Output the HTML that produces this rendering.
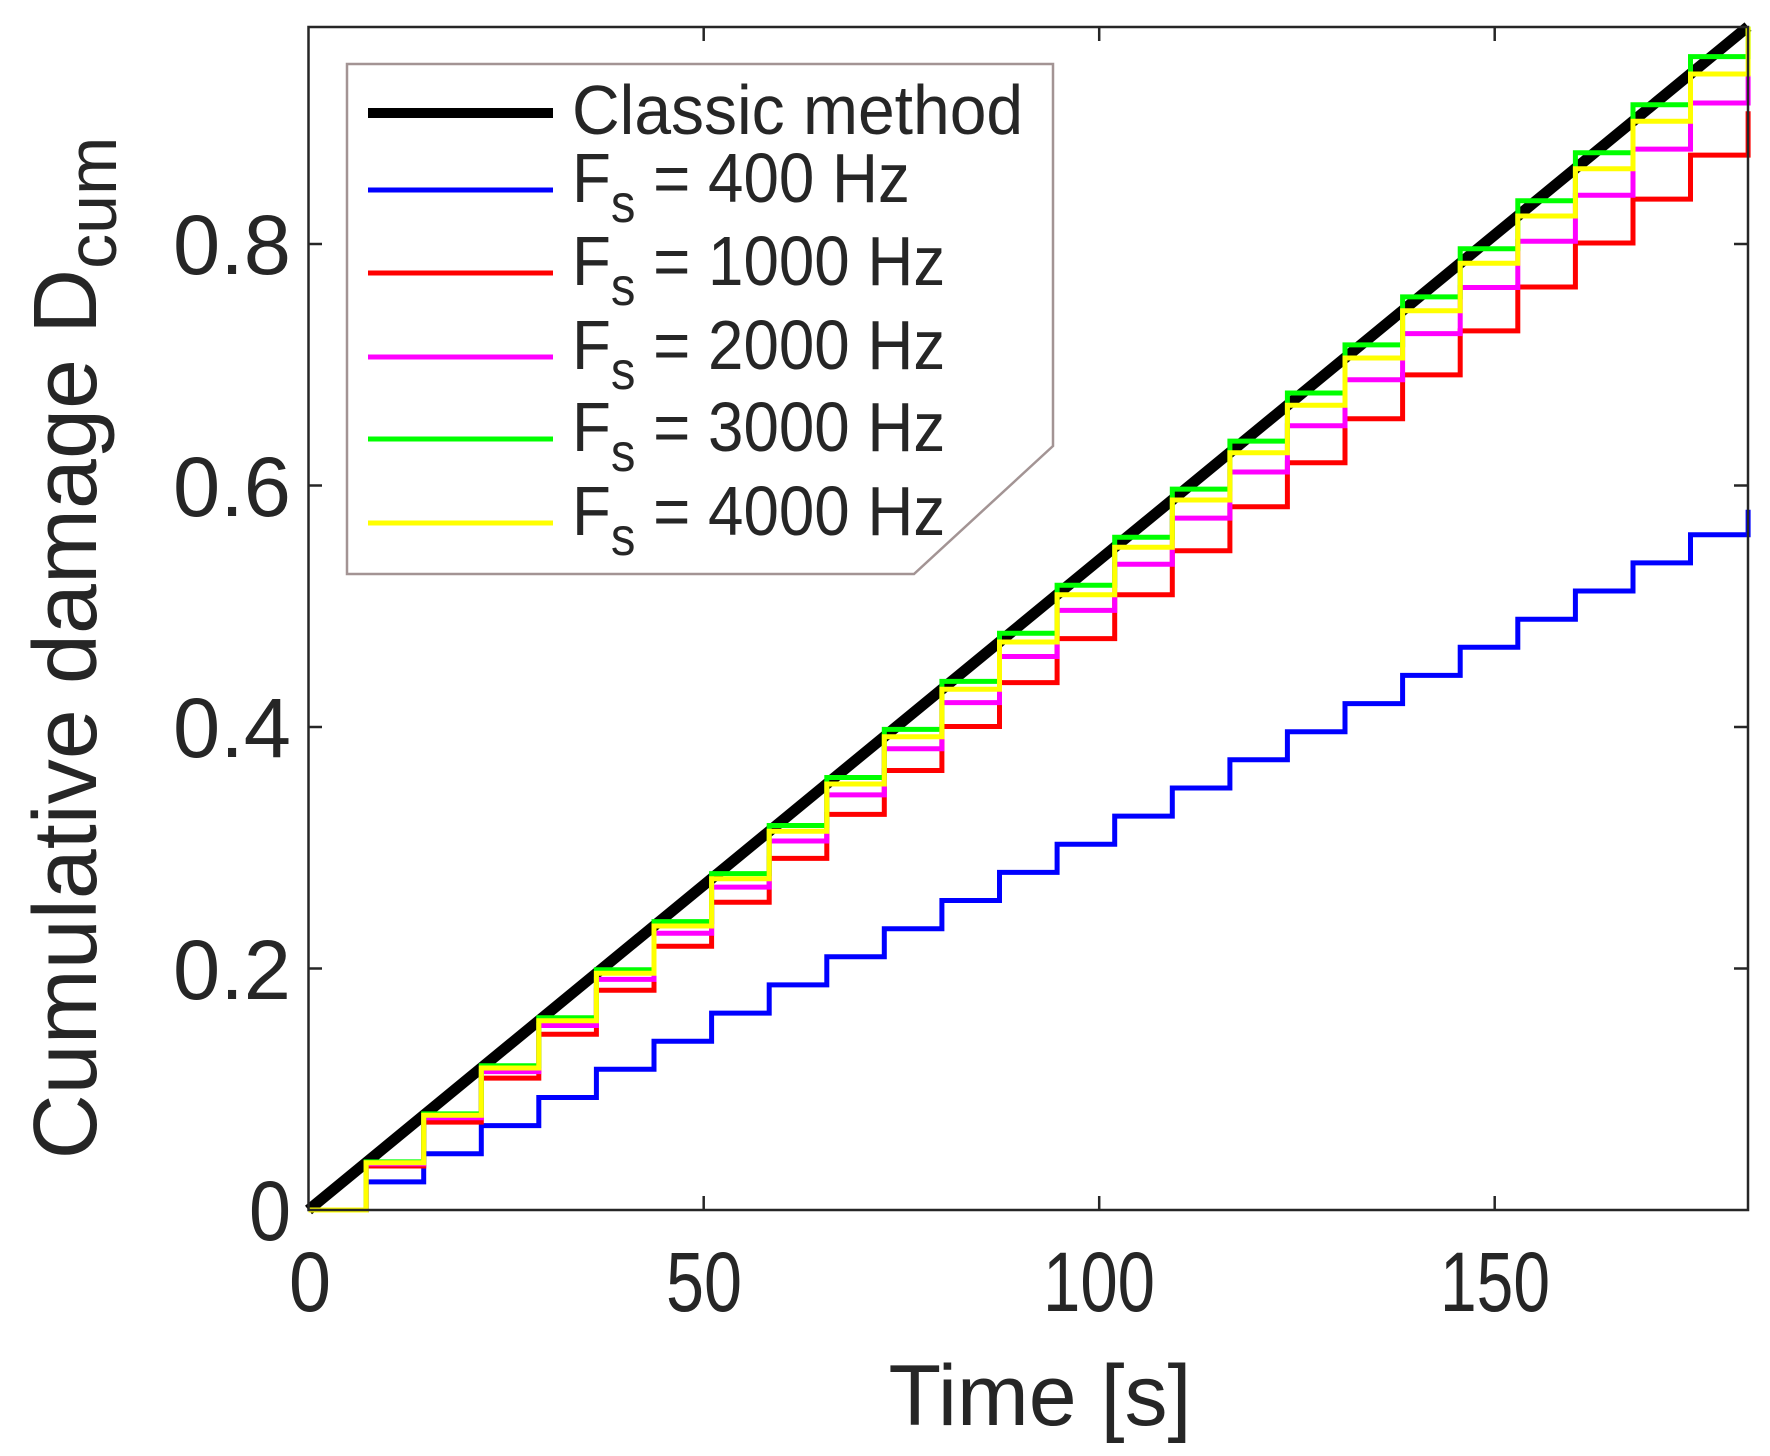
<!DOCTYPE html>
<html><head><meta charset="utf-8"><style>
html,body{margin:0;padding:0;background:#fff;}
svg{display:block;}
text{font-family:"Liberation Sans",sans-serif;fill:#262626;}
</style></head><body>
<svg id="s" width="1770" height="1456" viewBox="0 0 1770 1456" xmlns="http://www.w3.org/2000/svg">
<rect width="1770" height="1456" fill="#fff"/>
<g id="series"></g>
<rect x="308.5" y="27" width="1439.5" height="1183" fill="none" stroke="#262626" stroke-width="2.5"/>
<g stroke="#262626" stroke-width="2.5">
<line x1="703.7" y1="1210" x2="703.7" y2="1196"/><line x1="1099.2" y1="1210" x2="1099.2" y2="1196"/><line x1="1494.7" y1="1210" x2="1494.7" y2="1196"/>
<line x1="703.7" y1="27" x2="703.7" y2="41"/><line x1="1099.2" y1="27" x2="1099.2" y2="41"/><line x1="1494.7" y1="27" x2="1494.7" y2="41"/>
<line x1="308.5" y1="968.5" x2="322" y2="968.5"/><line x1="308.5" y1="727" x2="322" y2="727"/><line x1="308.5" y1="485.5" x2="322" y2="485.5"/><line x1="308.5" y1="244" x2="322" y2="244"/>
<line x1="1748" y1="968.5" x2="1734" y2="968.5"/><line x1="1748" y1="727" x2="1734" y2="727"/><line x1="1748" y1="485.5" x2="1734" y2="485.5"/><line x1="1748" y1="244" x2="1734" y2="244"/>
</g>
<g font-size="84" text-anchor="end">
<text x="291" y="1240" textLength="42" lengthAdjust="spacingAndGlyphs">0</text>
<text x="291" y="999" textLength="118" lengthAdjust="spacingAndGlyphs">0.2</text>
<text x="291" y="757" textLength="118" lengthAdjust="spacingAndGlyphs">0.4</text>
<text x="291" y="516" textLength="118" lengthAdjust="spacingAndGlyphs">0.6</text>
<text x="291" y="274" textLength="118" lengthAdjust="spacingAndGlyphs">0.8</text>
</g>
<g font-size="84" text-anchor="middle">
<text x="310" y="1311" textLength="42" lengthAdjust="spacingAndGlyphs">0</text>
<text x="704" y="1311" textLength="76" lengthAdjust="spacingAndGlyphs">50</text>
<text x="1099" y="1311" textLength="112" lengthAdjust="spacingAndGlyphs">100</text>
<text x="1495" y="1311" textLength="110" lengthAdjust="spacingAndGlyphs">150</text>
</g>
<text x="1040" y="1425" font-size="86" text-anchor="middle" textLength="303" lengthAdjust="spacingAndGlyphs">Time [s]</text>
<g transform="translate(96,648) rotate(-90) scale(1.0,1)">
<text x="0" y="0" font-size="90" text-anchor="middle">Cumulative damage D<tspan font-size="70" dy="20">cum</tspan></text>
</g>
<polygon points="347,64 1053,64 1053,446 914,574 347,574" fill="#fff" stroke="#a39494" stroke-width="2.5"/>
<g stroke-width="5">
<line x1="368" y1="113" x2="553" y2="113" stroke="#000" stroke-width="10"/>
<line x1="368" y1="190" x2="553" y2="190" stroke="#0000ff"/>
<line x1="368" y1="273" x2="553" y2="273" stroke="#ff0000"/>
<line x1="368" y1="357" x2="553" y2="357" stroke="#ff00ff"/>
<line x1="368" y1="439" x2="553" y2="439" stroke="#00ff00"/>
<line x1="368" y1="523" x2="553" y2="523" stroke="#ffff00"/>
</g>
<g font-size="70" transform="translate(572,0) scale(0.943,1)">
<text x="0" y="134">Classic method</text>
</g>
<g font-size="70" transform="translate(572,0) scale(0.91,1)">
<text x="0" y="202">F<tspan font-size="54" dy="20">s</tspan><tspan dy="-20"> = 400 Hz</tspan></text>
<text x="0" y="285">F<tspan font-size="54" dy="20">s</tspan><tspan dy="-20"> = 1000 Hz</tspan></text>
<text x="0" y="369">F<tspan font-size="54" dy="20">s</tspan><tspan dy="-20"> = 2000 Hz</tspan></text>
<text x="0" y="451">F<tspan font-size="54" dy="20">s</tspan><tspan dy="-20"> = 3000 Hz</tspan></text>
<text x="0" y="535">F<tspan font-size="54" dy="20">s</tspan><tspan dy="-20"> = 4000 Hz</tspan></text>
</g>
</svg>
<script>
(function(){
var X=function(t){return 308.5+7.91*t;},Y=function(v){return 1210-1207.5*v;};
var g=document.getElementById('series'),ns='http://www.w3.org/2000/svg';
function step(rate,col,fin){
 var d='M'+X(0)+','+Y(0),p=182/25;
 for(var k=1;k<=25;k++){d+=' H'+X(k*p).toFixed(1);
  var v=(k<25)?rate*k:fin; d+=' V'+Y(v).toFixed(1);}
 var e=document.createElementNS(ns,'path');e.setAttribute('d',d);e.setAttribute('fill','none');
 e.setAttribute('stroke',col);e.setAttribute('stroke-width','5');g.appendChild(e);}
step(0.0233,'#0000ff',0.58);
step(0.0364,'#ff0000',0.91);
step(0.0382,'#ff00ff',0.94);
step(0.0398,'#00ff00',0.98);
step(0.0392,'#ffff00',0.98);
var l=document.createElementNS(ns,'line');l.setAttribute('x1',X(0));l.setAttribute('y1',Y(0));
l.setAttribute('x2',1748);l.setAttribute('y2',Y(0.98));l.setAttribute('stroke','#000');l.setAttribute('stroke-width','11');
g.insertBefore(l,g.firstChild);
})();
</script>
</body></html>
